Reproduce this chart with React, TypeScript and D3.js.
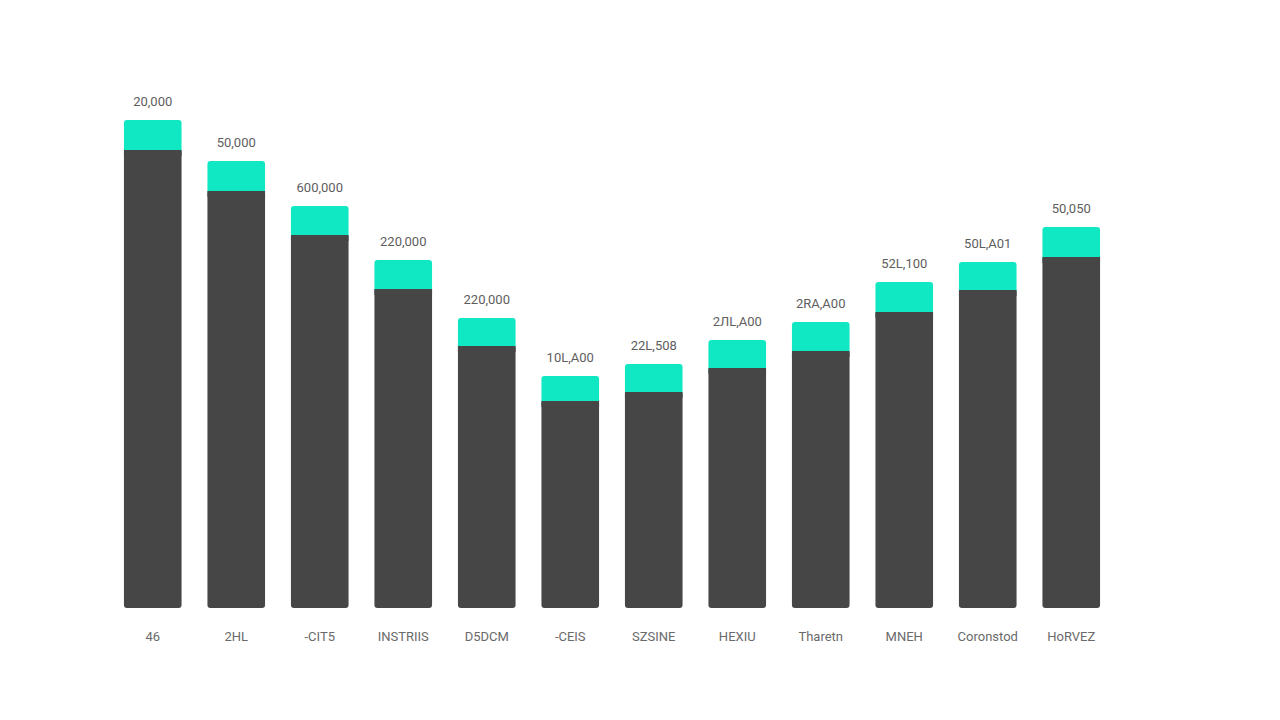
import { useEffect, useRef } from 'react';
import * as d3 from 'd3';

const categories = ['46', '2HL', '-CIT5', 'INSTRIIS', 'D5DCM', '-CEIS', 'SZSINE', 'HEXIU', 'Tharetn', 'MNEH', 'Coronstod', 'HoRVEZ'];
const baseValues = [458, 417, 373, 319, 262, 207, 216, 240, 257, 296, 318, 351];
const topValues = [30, 30, 29, 29, 28, 25, 28, 28, 29, 30, 28, 30];
const valueLabels = ['20,000', '50,000', '600,000', '220,000', '220,000', '10L,A00', '22L,508', '2ЛL,A00', '2RA,A00', '52L,100', '50L,A01', '50,050'];

export default function App() {
  const ref = useRef<SVGSVGElement>(null);

  useEffect(() => {
    if (!ref.current) return;
    document.body.style.margin = '0';
    const svg = d3.select(ref.current);
    svg.selectAll('*').remove();

    const width = 1280;
    const height = 720;

    svg.append('rect').attr('width', width).attr('height', height).attr('fill', '#ffffff');

    const x = d3
      .scaleBand<string>()
      .domain(categories)
      .range([111, 1113])
      .paddingInner(0.31)
      .paddingOuter(0.155);

    const y = d3.scaleLinear().domain([0, 500]).range([608, 108]);

    const teal = '#0fe8c3';
    const dark = '#464646';
    const r = 3;

    const g = svg.append('g');

    categories.forEach((c, i) => {
      const bx = x(c)!;
      const bw = x.bandwidth();
      const base = baseValues[i];
      const total = base + topValues[i];

      // teal cap, its lower edge tucked under the dark part
      g.append('rect')
        .attr('x', bx)
        .attr('y', y(total))
        .attr('width', bw)
        .attr('height', y(base) - y(total) + 4)
        .attr('rx', r)
        .attr('fill', teal);

      g.append('rect')
        .attr('x', bx)
        .attr('y', y(base))
        .attr('width', bw)
        .attr('height', y(0) - y(base))
        .attr('rx', r)
        .attr('fill', dark);

      g.append('rect')
        .attr('x', bx)
        .attr('y', y(base))
        .attr('width', bw)
        .attr('height', 6)
        .attr('fill', dark);

      g.append('text')
        .attr('x', bx + bw / 2)
        .attr('y', y(total) - 14)
        .attr('text-anchor', 'middle')
        .attr('font-family', 'Roboto, "DejaVu Sans", sans-serif')
        .attr('font-size', 13)
        .attr('fill', '#5e5e5e')
        .text(valueLabels[i]);

      g.append('text')
        .attr('x', bx + bw / 2)
        .attr('y', 641)
        .attr('text-anchor', 'middle')
        .attr('font-family', 'Roboto, "DejaVu Sans", sans-serif')
        .attr('font-size', 13)
        .attr('fill', '#6a6a6a')
        .text(categories[i]);
    });
  }, []);

  return (
    <svg
      ref={ref}
      width={1280}
      height={720}
      style={{ display: 'block', position: 'absolute', left: 0, top: 0 }}
    />
  );
}
